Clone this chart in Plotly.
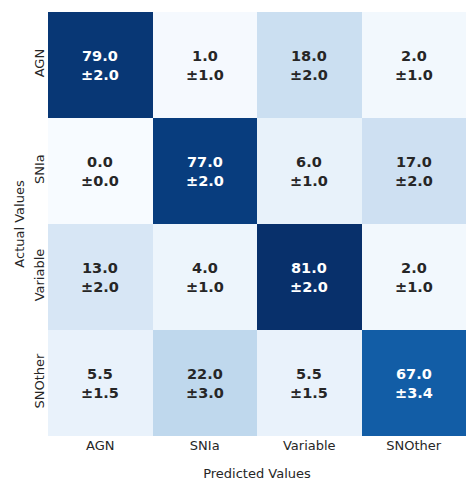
import plotly.graph_objects as go

labels = ["AGN", "SNIa", "Variable", "SNOther"]
means = [[79.0, 1.0, 18.0, 2.0],
         [0.0, 77.0, 6.0, 17.0],
         [13.0, 4.0, 81.0, 2.0],
         [5.5, 22.0, 5.5, 67.0]]
errs = [[2.0, 1.0, 2.0, 1.0],
        [0.0, 2.0, 1.0, 2.0],
        [2.0, 1.0, 2.0, 1.0],
        [1.5, 3.0, 1.5, 3.4]]

blues = [[0.0, "#f7fbff"], [0.125, "#deebf7"], [0.25, "#c6dbef"], [0.375, "#9ecae1"],
         [0.5, "#6baed6"], [0.625, "#4292c6"], [0.75, "#2171b5"], [0.875, "#08519c"],
         [1.0, "#08306b"]]
vmax = max(max(r) for r in means)

fig = go.Figure(go.Heatmap(z=means, x=labels, y=labels, colorscale=blues, zmin=0, zmax=vmax,
                           showscale=False, xgap=0, ygap=0, hoverinfo="skip"))
ann = []
for i, row in enumerate(means):
    for j, v in enumerate(row):
        col = "white" if v / vmax > 0.5 else "#262626"
        ann.append(dict(x=labels[j], y=labels[i], text=f"<b>{v:.1f}<br>±{errs[i][j]:.1f}</b>",
                        showarrow=False, font=dict(size=14.5, color=col, family="DejaVu Sans")))
fig.update_layout(width=474, height=482, margin=dict(l=40, r=16, t=4, b=54),
                  plot_bgcolor="white", paper_bgcolor="white", annotations=ann,
                  font=dict(family="DejaVu Sans", size=13, color="#262626"))
fig.update_xaxes(title_text="Predicted Values", title_font_size=13, title_standoff=16,
                 tickfont_size=13, showgrid=False, ticks="", zeroline=False)
fig.update_yaxes(title_text="Actual Values", title_font_size=13, title_standoff=4, autorange="reversed",
                 tickangle=-90, tickfont_size=13, showgrid=False, ticks="", zeroline=False)
fig.write_html("out.html")
